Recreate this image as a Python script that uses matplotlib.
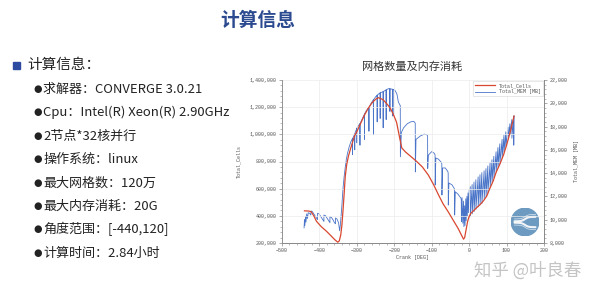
import matplotlib
matplotlib.use('Agg')
import matplotlib.pyplot as plt
import matplotlib.ticker as mticker
from matplotlib.patches import Circle, Rectangle
import numpy as np

plt.rcParams['font.family'] = ['Noto Sans CJK SC', 'DejaVu Sans']

# ---- data ----
page_title = '计算信息'
section_title = '计算信息：'
info_items = ['求解器：CONVERGE 3.0.21',
              'Cpu：Intel(R) Xeon(R) 2.90GHz',
              '2节点*32核并行',
              '操作系统：linux',
              '最大网格数：120万',
              '最大内存消耗：20G',
              '角度范围：[-440,120]',
              '计算时间：2.84小时']
chart_title = '网格数量及内存消耗'
watermark = '知乎 @叶良春'

# Total_Cells (left axis)
cells_x = [-440, -428, -422, -415, -408, -395, -381, -368, -358, -351, -347, -343, -340, -337,
           -334, -331, -327, -322, -314, -306, -300, -290, -280, -270, -260, -250, -242, -230,
           -220, -211, -203, -194, -186, -180, -170, -155, -140, -125, -109, -95, -82, -70,
           -56, -42, -29, -20, -15, -12, -8, -4, 0, 5, 11, 20, 29, 38, 47, 55, 64, 72, 82,
           92, 100, 110, 120]
cells_val = [437000, 435000, 430000, 400000, 360000, 320000, 286000, 250000, 222000, 206000,
             215000, 260000, 330000, 440000, 560000, 690000, 780000, 845000, 920000, 990000,
             1020000, 1080000, 1140000, 1190000, 1230000, 1258000, 1270000, 1255000, 1225000,
             1194000, 1150000, 1090000, 980000, 900000, 870000, 835000, 800000, 760000, 700000,
             630000, 555000, 490000, 430000, 365000, 305000, 255000, 228000, 240000, 300000,
             360000, 395000, 420000, 435000, 460000, 482000, 510000, 545000, 600000, 655000,
             720000, 780000, 850000, 920000, 1020000, 1135000]

# Total_MEM [MB] (right axis)
mem_x = [-441, -440, -439, -437, -436, -434, -432, -430, -426, -423, -422, -419, -414, -409,
         -405, -405, -401, -396, -392, -388, -388, -384, -379, -375, -372, -372, -368, -363,
         -360, -357, -357, -353, -349, -346, -344, -342, -340, -337, -334, -331, -328, -325,
         -321, -318, -316,
         -312, -311.7, -311.4, -306, -305.7, -305.4, -300, -299.7, -299.4, -292, -291.7, -291.4,
         -285, -280, -279.7, -279.4, -275, -268, -267.7, -267.4, -262, -256, -255.7, -255.4,
         -250, -246, -245.7, -245.4, -238, -237.7, -237.4, -230, -229.7, -229.4, -222, -221.7,
         -221.4, -216, -212, -211.7, -211.4, -204, -203.7, -203.4, -198, -193,
         -189, -184, -183.7, -181, -175, -165, -155, -148, -144, -143.7, -142, -138, -130,
         -120, -113, -111, -110.7, -109, -100, -93, -91, -90.7, -89, -82, -75, -73, -72.7,
         -71, -64, -57, -56, -55.7, -54, -46, -40, -39, -38.7, -37, -30, -22, -21, -20.7,
         -19, -17, -15, -14, -12, -11, -9, -8, -6, -5, -3, -2, 0,
         3, 3.2, 8, 8.2, 13, 13.2, 18, 18.2, 24, 24.2, 29, 29.2, 34, 34.2, 40, 40.2, 45, 45.2,
         50, 50.2, 56, 56.2, 61, 61.2, 66, 66.2, 72, 72.2, 77, 77.2, 82, 82.2, 88, 88.2,
         93, 93.2, 98, 98.2, 104, 104.2, 109, 109.2, 114, 114.2, 119, 119.2, 120]
mem_val = [9300, 10000, 9500, 10300, 9800, 10500, 10100, 10600, 10550, 10400, 10750, 10700,
           10450, 10200, 10000, 10550, 10500, 10250, 10050, 9850, 10400, 10350, 10100, 9900,
           9750, 10250, 10200, 9950, 9750, 9650, 10150, 10050, 9750, 9050, 9600, 10400, 11200,
           12700, 13700, 14500, 15200, 15700, 16200, 16500, 16700,
           16950, 15600, 16950, 17350, 16000, 17400, 17850, 16600, 17900, 18250, 16400, 18250,
           18700, 19050, 16900, 19100, 19350, 19650, 17600, 19650, 20000, 20300, 17300, 20300,
           20550, 20700, 18400, 20700, 20900, 18700, 20900, 21000, 17900, 21000, 21150, 18600,
           21150, 21250, 21250, 19300, 21250, 21200, 18900, 21200, 21100, 20800,
           20100, 19800, 15400, 17500, 17900, 18250, 18420, 18450, 18300, 14100, 16900, 17000,
           17200, 17350, 17300, 17200, 14400, 15550, 15850, 15700, 15550, 12980, 15300, 15200,
           14950, 14800, 12120, 14440, 14450, 14150, 14000, 11260, 13150, 13000, 12700, 12550,
           10400, 12400, 12200, 11850, 11700, 9830, 11900, 9700, 11600, 9400, 11200, 9500,
           11800, 9900, 12000, 10300, 12300, 10600, 12500,
           12850, 10300, 13020, 10500, 13230, 10700, 13430, 10900, 13680, 11100, 13870, 11300,
           14050, 11400, 14200, 11800, 14390, 12000, 14620, 12300, 14900, 12800, 15150, 13200,
           15450, 13600, 15840, 14100, 16200, 14500, 16520, 14800, 16900, 15300, 17250, 15800,
           17550, 16300, 17950, 16900, 18250, 17300, 18600, 17000, 18900, 16400, 18900]

# ---- figure ----
fig = plt.figure(figsize=(6.0, 2.98), dpi=100)
fig.patch.set_facecolor('white')

W, H = 600.0, 298.0
def fx(px):
    return px / W
def fy(py):
    return 1 - py / H

title_blue = '#2b4a8f'
fig.text(fx(258), fy(20), page_title, ha='center', va='center', fontsize=13.5,
         color=title_blue, fontweight='bold')

# left bullet list
fig.patches.append(Rectangle((fx(13), fy(69)), 7 / W, 7 / H, transform=fig.transFigure,
                             color='#2b4aa0', figure=fig))
fig.text(fx(27), fy(65), section_title, ha='left', va='center', fontsize=10.5, color='#222222')
row_y = [89, 112, 136, 159, 183, 206, 229, 253]
for ry, item in zip(row_y, info_items):
    fig.text(fx(33), fy(ry), '●', ha='left', va='center', fontsize=7, color='#222222',
             family=['DejaVu Sans'])
    fig.text(fx(43), fy(ry), item, ha='left', va='center', fontsize=9.4, color='#222222')

# chart
ax = fig.add_axes([fx(282), fy(243), (544 - 282) / W, (243 - 80) / H])
ax2 = ax.twinx()

red = '#d8472f'
blue = '#4a74c8'
l1, = ax.plot(cells_x, cells_val, color=red, lw=0.9, zorder=3, label='Total_Cells')
l2, = ax2.plot(mem_x, mem_val, color=blue, lw=0.6, zorder=2, label='Total_MEM [MB]')
ax.set_zorder(ax2.get_zorder() + 1)
ax.patch.set_visible(False)

ax.set_xlim(-500, 200)
ax.set_ylim(200000, 1400000)
ax2.set_ylim(8000, 22000)
ax.xaxis.set_major_locator(mticker.MultipleLocator(100))
ax.xaxis.set_minor_locator(mticker.MultipleLocator(20))
ax.yaxis.set_major_locator(mticker.MultipleLocator(200000))
ax.yaxis.set_minor_locator(mticker.MultipleLocator(40000))
ax2.yaxis.set_major_locator(mticker.MultipleLocator(2000))
ax2.yaxis.set_minor_locator(mticker.MultipleLocator(400))
ax.yaxis.set_major_formatter(mticker.StrMethodFormatter('{x:,.0f}'))
ax2.yaxis.set_major_formatter(mticker.StrMethodFormatter('{x:,.0f}'))

tick_font = dict(family='Liberation Mono', size=3.6, color='#555555')
gray = '#888888'
for a in (ax, ax2):
    for side in a.spines:
        a.spines[side].set_color(gray)
        a.spines[side].set_linewidth(0.6)
    a.tick_params(which='major', length=2.2, width=0.5, color=gray, pad=1.5,
                  labelsize=3.6, labelcolor='#555555')
    a.tick_params(which='minor', length=1.2, width=0.4, color=gray)
    for lab in a.get_xticklabels() + a.get_yticklabels():
        lab.set_family('Liberation Mono')
ax.spines['top'].set_visible(False)
ax2.spines['top'].set_visible(False)

ax.grid(True, which='major', color='#ececec', lw=0.5)
ax.set_axisbelow(True)

ax.set_xlabel('Crank [DEG]', fontdict=tick_font, labelpad=1)
ax.set_ylabel('Total_Cells', fontdict=tick_font, labelpad=6)
ax2.set_ylabel('Total_MEM [MB]', fontdict=tick_font, labelpad=5)

leg = ax.legend([l1, l2], ['Total_Cells', 'Total_MEM [MB]'], loc='upper right',
                prop={'family': 'Liberation Mono', 'size': 3.6}, frameon=True,
                fancybox=False, edgecolor='#cccccc', borderpad=0.4, handlelength=4,
                labelspacing=0.3, borderaxespad=0.2)
leg.get_frame().set_linewidth(0.4)
for t in leg.get_texts():
    t.set_color('#555555')

fig.text(fx(412), fy(67), chart_title, ha='center', va='center', fontsize=8, color='#333333')

# little round logo in the corner of the plot
lax = fig.add_axes([fx(511), fy(236), 28 / W, 28 / H])
lax.set_xlim(-1, 1)
lax.set_ylim(-1, 1)
lax.set_aspect('equal')
lax.axis('off')
lax.add_patch(Circle((0, 0), 0.98, color='#6d9ac0'))
t = np.linspace(-0.75, 0.75, 60)
for sgn in (1, -1):
    wave = sgn * 0.32 * (1 + np.tanh(4 * t)) / 2
    lax.plot(t, wave + sgn * 0.05, color='white', lw=1.5, alpha=0.9, solid_capstyle='round')
    lax.plot(t, wave + sgn * 0.22, color='#d6e4ef', lw=0.6, alpha=0.9)

fig.text(fx(528), fy(271), watermark, ha='center', va='center', fontsize=12.5,
         color='#c4c4c4')

fig.savefig('out.png', dpi=100, facecolor='white')
